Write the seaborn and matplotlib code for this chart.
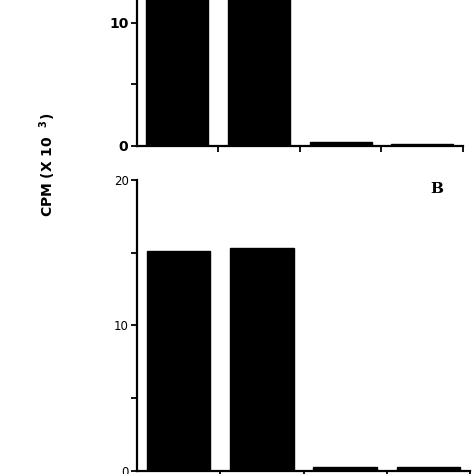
import matplotlib
matplotlib.use("Agg")
import matplotlib.pyplot as plt
import seaborn as sns
import pandas as pd

# Data (CPM x 10^3)
categories = ["1", "2", "3", "4"]
panel_a_values = [17.0, 17.5, 0.3, 0.15]   # top two bars exceed visible crop
panel_b_values = [15.1, 15.3, 0.3, 0.25]
a_ticks = [0, 5, 10]
a_ticklabels = ["0", "", "10"]
b_ticks = [0, 5, 10, 15, 20]
b_ticklabels = ["0", "", "10", "", "20"]

sns.set_theme(style="white")
plt.rcParams['font.family'] = ['DejaVu Sans']
plt.rcParams['text.color'] = 'black'
plt.rcParams['xtick.color'] = 'black'
plt.rcParams['ytick.color'] = 'black'

W = H = 474
fig = plt.figure(figsize=(W / 100, H / 100), dpi=100)

def frac(x0, x1, y_top, y_bot):
    return [x0 / W, 1 - y_bot / H, (x1 - x0) / W, (y_bot - y_top) / H]

# top panel: 0 at y=145.5, 12.3 px per unit -> 20 at y=-100.5
ax_a = fig.add_axes(frac(136.7, 463, 145.5 - 246, 145.5))
# bottom panel: 0 at y=471, 20 at y=180
ax_b = fig.add_axes(frac(137, 470, 180, 471))

for ax, vals, ticks, labels, fw, fs, fam in [
    (ax_a, panel_a_values, a_ticks, a_ticklabels, "bold", 10, "DejaVu Sans"),
    (ax_b, panel_b_values, b_ticks, b_ticklabels, "normal", 8.5, "DejaVu Sans"),
]:
    df = pd.DataFrame({"cat": categories, "cpm": vals})
    sns.barplot(data=df, x="cat", y="cpm", ax=ax, color="black",
                edgecolor="black", width=0.76, saturation=1)
    ax.set_xlim(-0.5, 3.5)
    ax.set_ylim(0, 20)
    ax.set_yticks(ticks)
    ax.set_yticklabels(labels, fontsize=fs, fontweight=fw, family=fam,
                       color="black")
    ax.set_xticks([0.5, 1.5, 2.5, 3.5])
    ax.set_xticklabels([])
    ax.set_xlabel("")
    ax.set_ylabel("")
    for s in ["top", "right"]:
        ax.spines[s].set_visible(False)
    for s in ["left", "bottom"]:
        ax.spines[s].set_color("black")
        ax.spines[s].set_linewidth(1.6)
    ax.tick_params(axis="both", which="both", direction="out", length=4,
                   width=1.3, color="black", left=True, bottom=True, pad=2)
    ax.set_facecolor("white")
    ax.patch.set_alpha(0)

ax_b.text(0.90, 0.97, "B", transform=ax_b.transAxes, fontsize=11,
          fontweight="bold", family="DejaVu Serif", ha="center", va="center",
          color="black")

fig.text(48 / W, 1 - 165 / H, r"CPM (X 10  $^{\mathbf{3}}$)", rotation=90,
         fontsize=10, fontweight="bold", ha="center", va="center",
         color="black")

fig.savefig("out.png", dpi=100, facecolor="white")
